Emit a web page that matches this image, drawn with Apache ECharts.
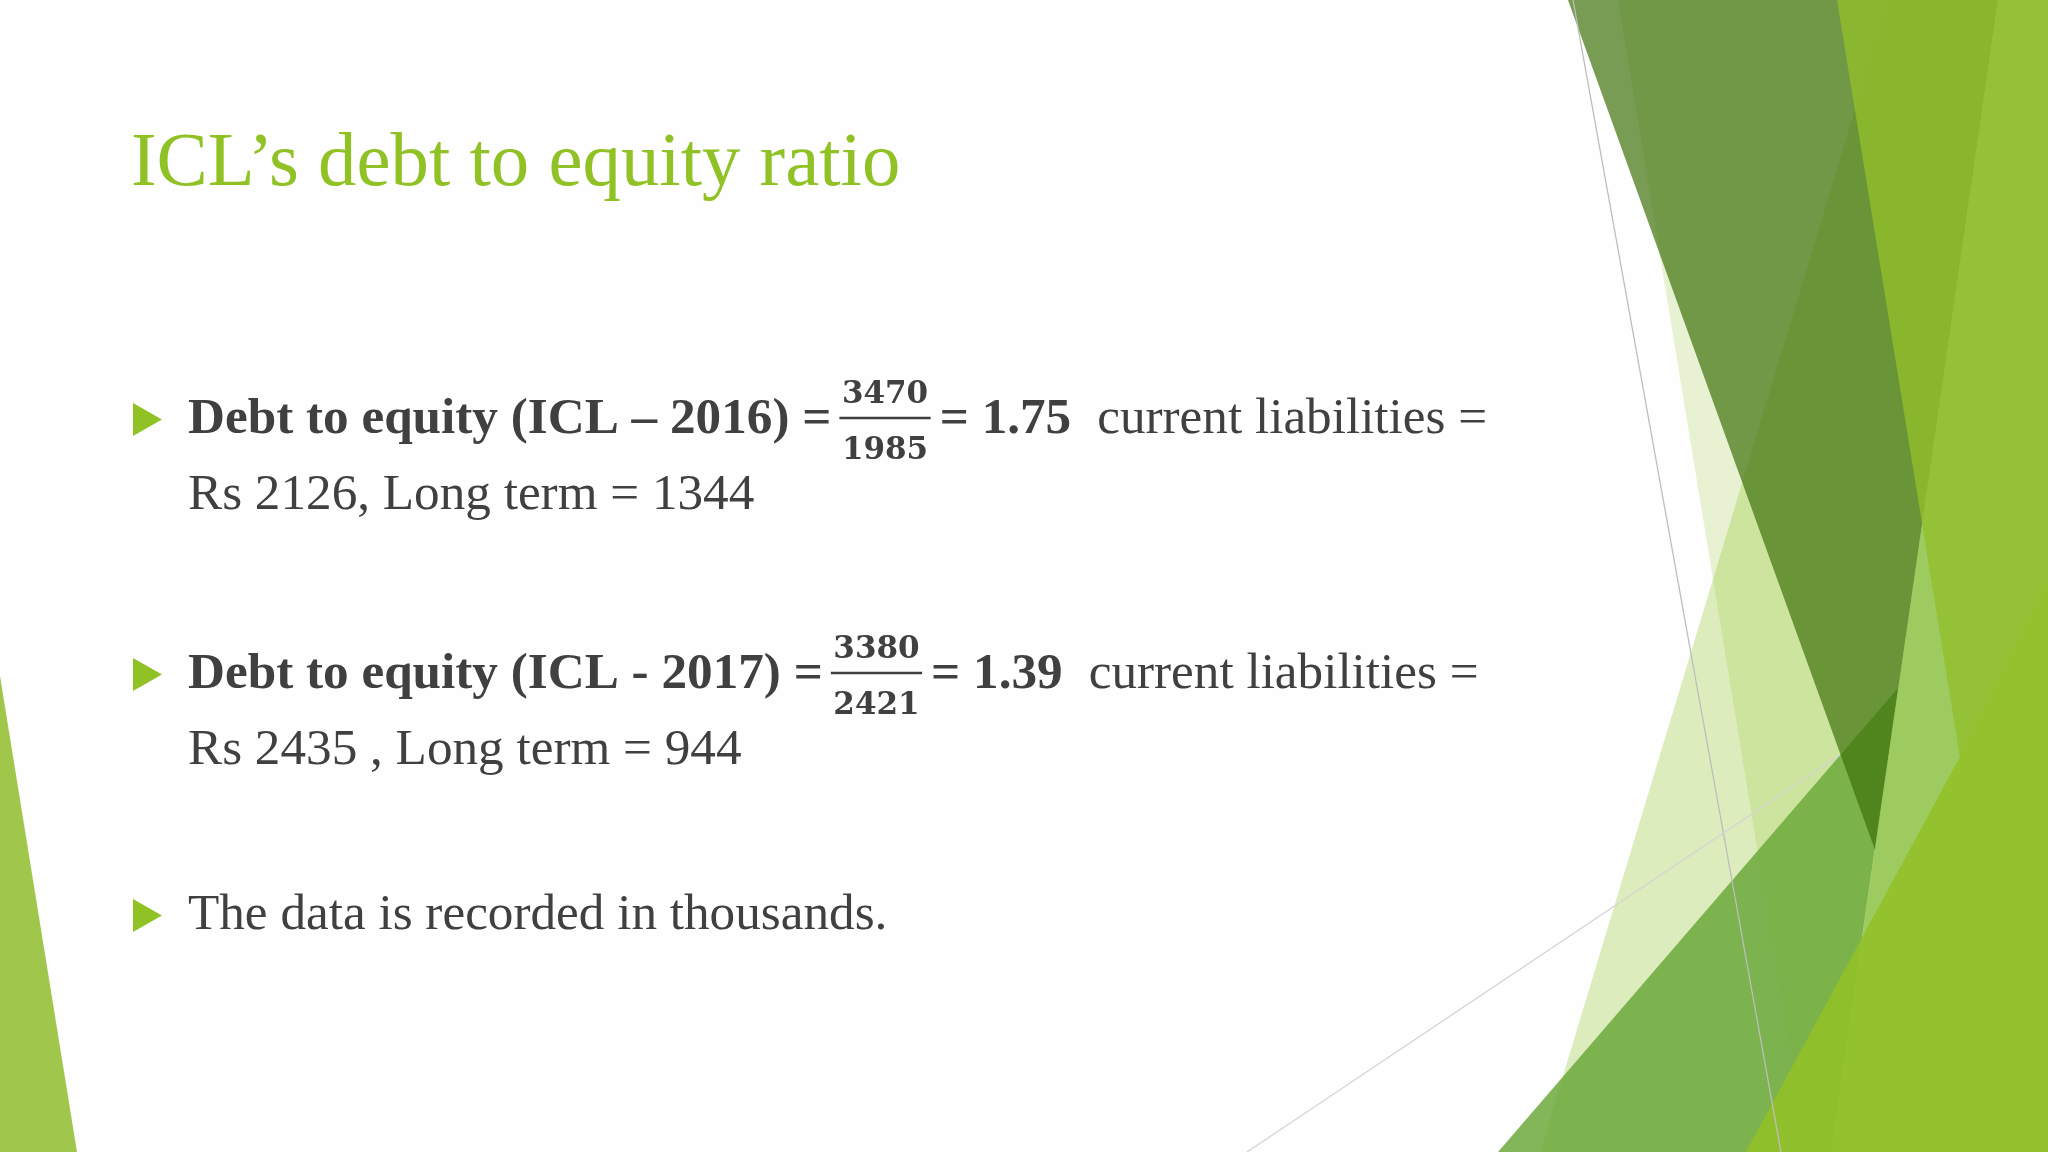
<!DOCTYPE html>
<html><head><meta charset="utf-8">
<script src="https://cdn.jsdelivr.net/npm/echarts@6/dist/echarts.min.js"></script>
<style>html,body{margin:0;padding:0;background:#fefefe}#c{width:2048px;height:1152px}</style>
</head><body><div id="c"></div>
<script>
// ---- slide content ----
const title = 'ICL’s debt to equity ratio';
const years = [2016, 2017];
const yearDash = ['–', '-'];
const totalDebt = [3470, 3380];
const equity = [1985, 2421];
const ratios = ['1.75', '1.39'];
const currentLiabilities = [2126, 2435];
const longTerm = [1344, 944];
const commaSep = [', ', ' , '];
const note = 'The data is recorded in thousands.';

// ---- layout / style ----
const W = 2048, H = 1152;
const chart = echarts.init(document.getElementById('c'), null, {renderer: 'canvas', width: W, height: H});
const TEXT = '#404040', ACC = '#90C226';
const SERIF = '"Liberation Serif","Times New Roman",serif';
const FS = 51.2, TFS = 76.8, FFS = 31;
const boldFont = 'bold ' + FS + 'px ' + SERIF;
const regFont = FS + 'px ' + SERIF;
const titleFont = TFS + 'px ' + SERIF;
const fracFont = 'bold ' + FFS + 'px "DejaVu Serif",serif';
const mctx = document.createElement('canvas').getContext('2d');
function tw(s, f) { mctx.font = f; return mctx.measureText(s).width; }
const MID = 0.245; // baseline -> middle offset (em)

function txt(s, x, baseline, font, size, fill, align) {
  return {type: 'text', z: 20, style: {
    text: s, x: x, y: baseline - MID * size, font: font, fill: fill,
    align: align || 'left', verticalAlign: 'middle',
    textAlign: align || 'left', textVerticalAlign: 'middle'}};
}
function poly(points, fill, z) {
  return {type: 'polygon', z: z || 1, silent: true, shape: {points: points}, style: {fill: fill}};
}
function seg(x1, y1, x2, y2, stroke, lw, z) {
  return {type: 'line', z: z || 5, silent: true, shape: {x1: x1, y1: y1, x2: x2, y2: y2}, style: {stroke: stroke, lineWidth: lw}};
}
function bullet(baseline) {
  return poly([[133, baseline - 29], [162, baseline - 12.5], [133, baseline + 4]], ACC, 20);
}

const g = [];
// decorative facets (right) and left sliver
g.push(poly([[0, 676], [77, 1152], [0, 1152]], '#A0C74C', 1));
g.push(poly([[1618, 0], [2048, 0], [2048, 1152], [1807, 1152]], 'rgba(144,194,38,0.2)', 2));
g.push(poly([[1888, 0], [2048, 0], [2048, 1152], [1540, 1152]], 'rgba(144,194,38,0.3)', 3));
g.push(poly([[1498, 1152], [1898, 688], [1831, 1152]], 'rgba(108,169,59,0.85)', 4));
g.push(poly([[1568, 0], [1998, 0], [1875, 850]], 'rgba(62,114,12,0.7)', 5));
g.push(poly([[1998, 0], [2048, 0], [2048, 1152], [1831, 1152]], 'rgba(140,192,70,0.72)', 6));
g.push(poly([[1837, 0], [2048, 0], [2048, 1152], [1746, 1152], [1960, 757]], 'rgba(145,190,42,0.8)', 7));
g.push(poly([[1960, 757], [2048, 578], [2048, 1152], [1746, 1152]], 'rgba(146,194,40,0.55)', 8));
g.push(seg(1573, 0, 1781, 1152, '#BDBDBD', 1.3, 9));
g.push(seg(1247, 1152, 1840, 755, '#D4D4D4', 1.3, 9));

// title
g.push(txt(title, 131, 184, titleFont, TFS, ACC));

// two ratio bullets
const baselines = [432, 687];
years.forEach(function (yr, i) {
  const b = baselines[i];
  g.push(bullet(b));
  let x = 188;
  const s1 = 'Debt to equity (ICL ' + yearDash[i] + ' ' + yr + ') =';
  g.push(txt(s1, x, b, boldFont, FS, TEXT));
  x += tw(s1, boldFont);
  const num = String(totalDebt[i]), den = String(equity[i]);
  const fw = Math.max(tw(num, fracFont), tw(den, fracFont)) + 5;
  const fx = x + 8;
  const cx = fx + fw / 2;
  g.push(txt(num, cx, b - 29, fracFont, FFS, TEXT, 'center'));
  g.push(txt(den, cx, b + 27, fracFont, FFS, TEXT, 'center'));
  g.push(seg(fx, b - 14, fx + fw, b - 14, TEXT, 2.6, 20));
  x = fx + fw + 9;
  const s2 = '= ' + ratios[i];
  g.push(txt(s2, x, b, boldFont, FS, TEXT));
  x += tw(s2, boldFont) + 26;
  g.push(txt('current liabilities =', x, b, regFont, FS, TEXT));
  const s3 = 'Rs ' + currentLiabilities[i] + commaSep[i] + 'Long term = ' + longTerm[i];
  g.push(txt(s3, 188, b + 76, regFont, FS, TEXT));
});

// note bullet
g.push(bullet(928));
g.push(txt(note, 188, 928, regFont, FS, TEXT));

chart.setOption({backgroundColor: '#fefefe', animation: false, graphic: {elements: g}});
</script></body></html>
